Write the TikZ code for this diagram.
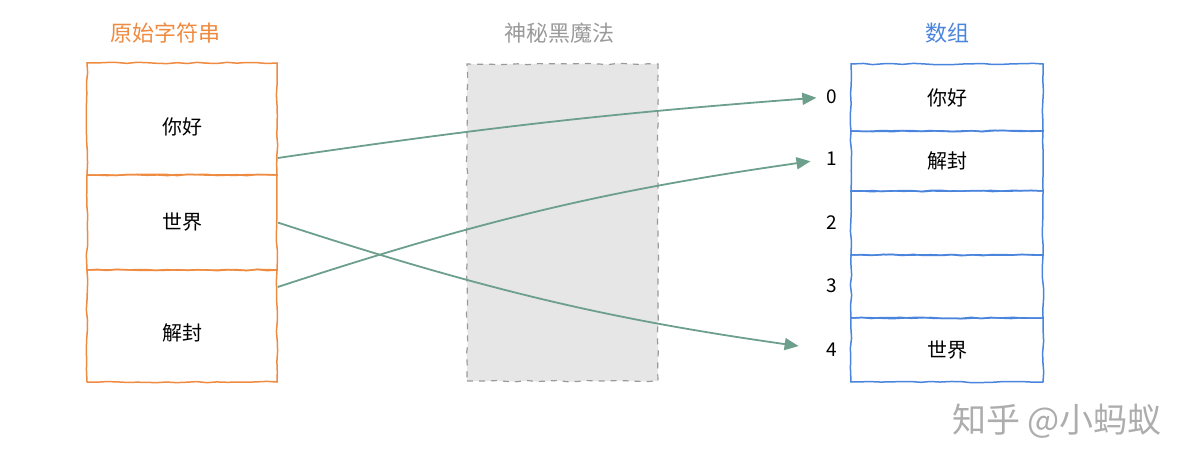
\documentclass[tikz,border=0pt]{standalone}
\usepackage{fontspec}
\setmainfont{Noto Sans CJK SC}
\usetikzlibrary{decorations.pathmorphing,arrows.meta}
\definecolor{strorange}{HTML}{EF8B40}
\definecolor{arrblue}{HTML}{4A84DC}
\definecolor{magicfill}{HTML}{E6E6E6}
\definecolor{magicline}{HTML}{9A9A9A}
\definecolor{linkgreen}{HTML}{6C9F8C}

\begin{document}
\begin{tikzpicture}[x=0.5pt,y=0.5pt,
  sketchy/.style={decorate,decoration={random steps,segment length=5pt,amplitude=0.35pt}},
  strcell/.style={draw=strorange,line width=0.75pt,sketchy,minimum width=95pt,inner sep=0pt,font=\fontsize{10}{12}\selectfont},
  arrcell/.style={draw=arrblue,line width=0.75pt,sketchy,minimum width=96pt,inner sep=0pt,font=\fontsize{10}{12}\selectfont},
  idx/.style={inner sep=0pt,font=\fontsize{9.5}{11}\selectfont},
  title/.style={font=\fontsize{11}{13}\selectfont},
  link/.style={draw=linkgreen,line width=0.9pt,-{Triangle[length=7pt,width=6pt]}}]
\useasboundingbox (0,0) rectangle (1200,-470);
% titles
\node[title,text=strorange] (tstr) at (165,-33) {原始字符串};
\node[title,text=magicline] (tmagic) at (559,-33) {神秘黑魔法};
\node[title,text=arrblue] (tarr) at (947,-33) {数组};
% original strings
\node[strcell,minimum height=56pt,label={[yshift=-4pt,font=\fontsize{10}{12}\selectfont]center:你好}] (s1) at (182,-119) {};
\node[strcell,minimum height=47.5pt] (s2) at (182,-222.5) {世界};
\node[strcell,minimum height=56pt,label={[yshift=-3.5pt,font=\fontsize{10}{12}\selectfont]center:解封}] (s3) at (182,-326) {};
% black magic
\node[draw=magicline,dashed,fill=magicfill,line width=0.6pt,sketchy,minimum width=95.5pt,minimum height=158.5pt] (magic) at (562.5,-222.5) {};
% array
\node[arrcell,minimum height=33.5pt] (a0) at (947,-97.5) {你好};
\node[arrcell,minimum height=30pt] (a1) at (947,-161) {解封};
\node[arrcell,minimum height=32pt] (a2) at (947,-223) {};
\node[arrcell,minimum height=31.5pt] (a3) at (947,-286.5) {};
\node[arrcell,minimum height=32pt] (a4) at (947,-350) {世界};
% indices
\foreach \i/\y in {0/97,1/159,2/223,3/286,4/350}
  \node[idx] (i\i) at (832,-\y) {\i};
% connections
\draw[link,shorten >=5pt] ([yshift=-19.5pt]s1.east) to[bend left=2] (i0.west);
\draw[link,shorten >=8pt] ([yshift=19.5pt]s3.east) to[bend left=5] (i1.west);
\draw[link,shorten >=14pt] (s2.east) to[bend right=5] (i4.west);
% watermark
\node[text=black!32,font=\fontsize{17}{19}\selectfont] (wm) at (1057,-421) {知乎 @小蚂蚁};
\end{tikzpicture}
\end{document}
